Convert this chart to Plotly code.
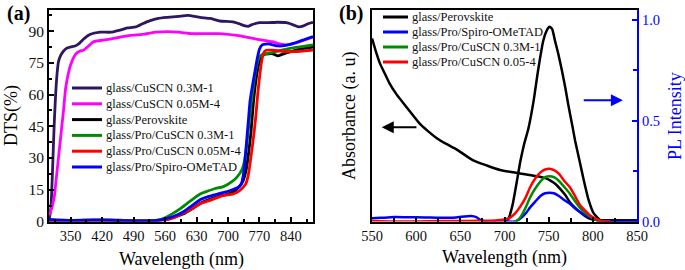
import plotly.graph_objects as go

# ---------------- Panel (a): DTS(%) vs wavelength ----------------
a_names = ["glass/CuSCN 0.3M-1", "glass/CuSCN 0.05M-4", "glass/Perovskite",
           "glass/Pro/CuSCN 0.3M-1", "glass/Pro/CuSCN 0.05M-4", "glass/Pro/Spiro-OMeTAD"]
a_colors = ["#2E1760", "#FF00FF", "#000000", "#008C00", "#FF0000", "#0000FF"]

purple_x = [302, 304, 306, 308, 310, 312, 314, 317, 320, 323, 328, 334, 342, 350, 360, 368, 380, 394, 416, 440,
            460, 476, 495, 510, 527, 545, 565, 590, 610, 638, 660, 682, 711, 725, 738, 745, 752, 770, 790, 810,
            830, 845, 858, 868, 878, 889]
purple_y = [1, 3, 6, 14, 25, 37, 48, 61, 70, 75.5, 78.5, 80.5, 82, 82.5, 83, 84, 86.5, 88.5, 89.5, 89.5,
            90.5, 91.5, 92, 93.5, 95, 96, 96.5, 97, 97.5, 96.5, 96, 94.8, 94.4, 93.5, 92.5, 92.3, 93, 94, 94, 94.2,
            94, 93, 92, 92.5, 93.5, 94.2]

magenta_x = [302, 306, 310, 314, 317, 322, 328, 334, 339, 345, 350, 361, 370, 379, 390, 401, 423, 440, 456, 483,
             510, 540, 565, 590, 620, 650, 680, 694, 720, 738, 760, 776, 798, 815, 830, 850, 870, 889]
magenta_y = [3, 5, 8, 12, 18, 28, 40, 52, 63, 70, 74, 79, 80.5, 81, 83, 85, 85.8, 86.3, 87, 88,
             88.5, 89.5, 89.8, 89.5, 88.8, 88.8, 88.8, 88.6, 88, 87.3, 86.3, 85.8, 85, 84, 83.5, 84.3, 85.8, 87.2]

black_x = [302, 330, 380, 420, 460, 500, 540, 560, 580, 600, 620, 640, 660, 680, 700, 715, 725, 733, 740, 745,
           751, 756, 761, 766, 772, 780, 790, 800, 811, 820, 840, 860, 889]
black_y = [0.5, 0.5, 0.6, 0.8, 0.6, 0.3, 0.4, 1.0, 2.0, 3.5, 6, 8.8, 10.5, 12, 13, 14.5, 16.5, 19, 24, 31,
           42, 55, 65, 72, 77, 79, 79.3, 79.3, 78.3, 79, 80.3, 81.5, 82.5]

green_x = [302, 360, 420, 480, 530, 545, 560, 575, 594, 615, 638, 650, 670, 690, 711, 720, 730, 736, 741, 746,
           751, 757, 763, 770, 776, 790, 800, 820, 840, 860, 889]
green_y = [0.3, 0.4, 0.5, 0.3, 0.4, 0.8, 1.8, 3.5, 6.1, 9.5, 13, 14, 15.5, 16.5, 19.2, 21, 24, 28, 35, 45,
           55, 65, 73, 78, 79, 79.5, 80, 81, 82, 82.6, 83.5]

red_x = [302, 400, 500, 540, 560, 580, 594, 620, 638, 660, 689, 711, 725, 735, 740, 746, 752, 758, 762, 766,
         770, 775, 780, 785, 800, 820, 840, 860, 889]
red_y = [0.3, 0.5, 0.2, 0.3, 0.6, 1.8, 3.3, 6, 8.4, 10, 12.2, 13, 14.5, 16.5, 18, 23, 32, 42, 50, 60,
         68, 76, 80, 81, 81, 80.5, 80.3, 80.5, 81]

blue_x = [302, 320, 360, 400, 440, 480, 520, 545, 560, 580, 600, 620, 640, 660, 680, 700, 715, 725, 730, 736,
          741, 745, 749, 755, 760, 765, 770, 776, 790, 800, 811, 820, 831, 845, 856, 870, 889]
blue_y = [1, 0.8, 0.5, 0.8, 0.6, 0.3, 0.3, 0.5, 1.2, 2.5, 4.5, 7.5, 10.5, 12, 13.2, 14.3, 15.5, 16.5, 18, 25,
          37, 47, 57, 65, 71, 77, 81.5, 83.5, 84, 83.5, 83, 83, 83.4, 84.2, 85, 86, 87.5]

a_x = [purple_x, magenta_x, black_x, green_x, red_x, blue_x]
a_y = [purple_y, magenta_y, black_y, green_y, red_y, blue_y]

a_xticks = [350, 420, 490, 560, 630, 700, 770, 840]
a_yticks = [0, 15, 30, 45, 60, 75, 90]

# ---------------- Panel (b): absorbance and PL ----------------
abs_x = [550, 554, 559, 565, 570, 578, 586, 595, 604, 613, 623, 634, 646, 664, 680, 695, 710, 725, 740, 747,
         752, 758, 763, 769, 774, 780, 786, 791, 797, 805, 816, 830, 850]
abs_y = [0.909, 0.85, 0.785, 0.73, 0.685, 0.63, 0.585, 0.535, 0.486, 0.45, 0.415, 0.385, 0.357, 0.305, 0.278,
         0.256, 0.244, 0.233, 0.222, 0.214, 0.203, 0.185, 0.162, 0.13, 0.096, 0.068, 0.044, 0.028, 0.013,
         0.007, 0.005, 0.005, 0.005]

pl_black_x = [700, 704, 709, 714, 718, 722, 727, 733, 738, 744, 748, 751, 754, 757, 761, 765, 769, 772, 777,
              780, 785, 790, 795, 801, 808, 815, 830, 850]
pl_black_y = [0.003, 0.01, 0.08, 0.2, 0.3, 0.38, 0.46, 0.6, 0.75, 0.9, 0.95, 0.967, 0.955, 0.9, 0.83, 0.75,
              0.66, 0.585, 0.47, 0.4, 0.3, 0.2, 0.11, 0.04, 0.008, 0.005, 0.005, 0.005]

pl_blue_x = [550, 560, 575, 590, 610, 627, 645, 655, 662, 668, 672, 676, 680, 700, 712, 718, 724, 729, 735,
             741, 746, 751, 756, 762, 768, 774, 780, 785, 791, 797, 805, 812, 850]
pl_blue_y = [0.016, 0.018, 0.022, 0.021, 0.02, 0.018, 0.02, 0.025, 0.027, 0.022, 0.01, 0.003, 0.0, 0.0, 0.0,
             0.015, 0.04, 0.07, 0.1, 0.128, 0.14, 0.143, 0.14, 0.125, 0.105, 0.088, 0.065, 0.05, 0.033, 0.02,
             0.005, 0.0, 0.0]

pl_green_x = [712, 716, 720, 724, 729, 735, 741, 746, 751, 756, 762, 768, 774, 780, 785, 791, 797, 805, 812]
pl_green_y = [0.0, 0.01, 0.035, 0.07, 0.12, 0.165, 0.2, 0.22, 0.225, 0.22, 0.2, 0.17, 0.138, 0.1, 0.07, 0.045,
              0.025, 0.005, 0.0]

pl_red_x = [550, 570, 600, 630, 660, 680, 690, 695, 700, 706, 712, 718, 724, 729, 735, 741, 746, 751, 756,
            762, 768, 774, 780, 785, 791, 797, 804, 811, 820]
pl_red_y = [0.002, 0.0, 0.0, 0.002, 0.003, 0.004, 0.005, 0.007, 0.01, 0.018, 0.04, 0.075, 0.12, 0.17, 0.215,
            0.245, 0.258, 0.262, 0.255, 0.235, 0.2, 0.17, 0.125, 0.085, 0.055, 0.03, 0.012, 0.002, 0.0]

b_names = ["glass/Perovskite", "glass/Pro/Spiro-OMeTAD", "glass/Pro/CuSCN 0.3M-1", "glass/Pro/CuSCN 0.05-4"]
b_colors = ["#000000", "#0000FF", "#008C00", "#FF0000"]
b_xticks = [550, 600, 650, 700, 750, 800, 850]
b_pl_ticks = [0.0, 0.5, 1.0]
b_pl_ticktext = ["0.0", "0.5", "1.0"]

FONT = "Liberation Serif"
W, H = 685, 270


def spl(col, w):
    return dict(color=col, width=w, shape="spline", smoothing=0.5)


fig = go.Figure()

for name, col, xs, ys in zip(a_names, a_colors, a_x, a_y):
    fig.add_trace(go.Scatter(x=xs, y=ys, mode="lines", name=name, xaxis="x", yaxis="y",
                             line=spl(col, 2.8), showlegend=False))

fig.add_trace(go.Scatter(x=abs_x, y=abs_y, mode="lines", name=b_names[0], xaxis="x2", yaxis="y2",
                         line=spl(b_colors[0], 2.5), showlegend=False))
fig.add_trace(go.Scatter(x=pl_black_x, y=pl_black_y, mode="lines", name=b_names[0], xaxis="x2", yaxis="y3",
                         line=spl(b_colors[0], 2.5), showlegend=False))
fig.add_trace(go.Scatter(x=pl_blue_x, y=pl_blue_y, mode="lines", name=b_names[1], xaxis="x2", yaxis="y3",
                         line=spl(b_colors[1], 2.5), showlegend=False))
fig.add_trace(go.Scatter(x=pl_green_x, y=pl_green_y, mode="lines", name=b_names[2], xaxis="x2", yaxis="y3",
                         line=spl(b_colors[2], 2.5), showlegend=False))
fig.add_trace(go.Scatter(x=pl_red_x, y=pl_red_y, mode="lines", name=b_names[3], xaxis="x2", yaxis="y3",
                         line=spl(b_colors[3], 2.5), showlegend=False))

ydom = [1 - 221.5 / H, 1 - 10 / H]
dom_a = [49 / W, 313 / W]
dom_b = [372 / W, 637 / W]

tickfont = dict(family=FONT, size=14.5, color="#111")
axis_common = dict(showline=True, linecolor="black", linewidth=2, ticks="inside", ticklen=5,
                   tickwidth=1.5, tickcolor="black", showgrid=False, zeroline=False, tickfont=tickfont,
                   automargin=False)

fig.update_layout(
    width=W, height=H, margin=dict(l=0, r=0, t=0, b=0, autoexpand=False),
    paper_bgcolor="white", plot_bgcolor="white", showlegend=False,
    xaxis=dict(domain=dom_a, range=[302, 889], anchor="y", tickvals=a_xticks, mirror=True,
               minor=dict(ticks="inside", ticklen=3, tick0=315, dtick=35, tickcolor="black"),
               **axis_common),
    yaxis=dict(domain=ydom, range=[0, 100], anchor="x", tickvals=a_yticks, mirror=True,
               minor=dict(ticks="inside", ticklen=3, tick0=7.5, dtick=15, tickcolor="black"),
               **{**axis_common, "tickfont": dict(family=FONT, size=15.5, color="#111")}),
    xaxis2=dict(domain=dom_b, range=[550, 850], anchor="y2", tickvals=b_xticks, mirror=True,
                minor=dict(ticks="inside", ticklen=4, tick0=575, dtick=50, tickcolor="black"),
                **axis_common),
    yaxis2=dict(domain=ydom, range=[0, 1.05], anchor="x2", showticklabels=False, showline=True,
                linecolor="black", linewidth=2, ticks="", showgrid=False, zeroline=False, automargin=False),
    yaxis3=dict(range=[0, 1.05], anchor="x2", overlaying="y2", side="right", tickvals=b_pl_ticks,
                ticktext=b_pl_ticktext, showline=True, linecolor="#0000FF", linewidth=2, ticks="inside",
                ticklen=5, tickwidth=1.5, tickcolor="#0000FF", showgrid=False, zeroline=False,
                automargin=False,
                minor=dict(ticks="inside", ticklen=4, tick0=0.25, dtick=0.5, tickcolor="#0000FF"),
                tickfont=dict(family=FONT, size=14.5, color="#0000FF")),
)

ann = []
shapes = []


def add_legend(names, colors, x0, y0, dy, linelen):
    for i, (n, c) in enumerate(zip(names, colors)):
        yy = 1 - (y0 + i * dy) / H
        shapes.append(dict(type="line", xref="paper", yref="paper", x0=x0 / W, x1=(x0 + linelen) / W,
                           y0=yy, y1=yy, line=dict(color=c, width=3)))
        ann.append(dict(text=n, x=(x0 + linelen + 2) / W, y=yy, xref="paper", yref="paper",
                        xanchor="left", yanchor="middle", showarrow=False,
                        font=dict(family=FONT, size=12.5, color="#111")))


add_legend(a_names, a_colors, 72, 88, 15.8, 30)
add_legend(b_names, b_colors, 383, 17, 15, 25)


def label(text, xpx, ypx, size, color="black", angle=0):
    ann.append(dict(text=text, x=xpx / W, y=1 - ypx / H, xref="paper", yref="paper", showarrow=False,
                    xanchor="center", yanchor="middle", textangle=angle,
                    font=dict(family=FONT, size=size, color=color)))


label("<b>(a)</b>", 18, 13, 20)
label("<b>(b)</b>", 351, 13, 20)
label("DTS(%)", 12, 116, 18, angle=-90)
label("Wavelength (nm)", (49 + 313) / 2, 259, 18)
label("Wavelength (nm)", (372 + 637) / 2, 257, 18)
label("Absorbance (a. u)", 350, 116, 18, angle=-90)
label("PL Intensity", 675, 116, 18, color="#0000FF", angle=-90)

# arrows pointing to the corresponding axes
ann.append(dict(text="", x=561, y=0.468, ax=602, ay=0.468, xref="x2", yref="y2", axref="x2", ayref="y2",
                showarrow=True, arrowhead=2, arrowsize=1.2, arrowwidth=2, arrowcolor="black"))
ann.append(dict(text="", x=834, y=0.602, ax=788, ay=0.602, xref="x2", yref="y2", axref="x2", ayref="y2",
                showarrow=True, arrowhead=2, arrowsize=1.2, arrowwidth=2, arrowcolor="#0000FF"))
fig.update_layout(annotations=ann, shapes=shapes)

fig.write_html("out.html", config={"displayModeBar": False},
               post_script="document.body.style.margin='0px';")
